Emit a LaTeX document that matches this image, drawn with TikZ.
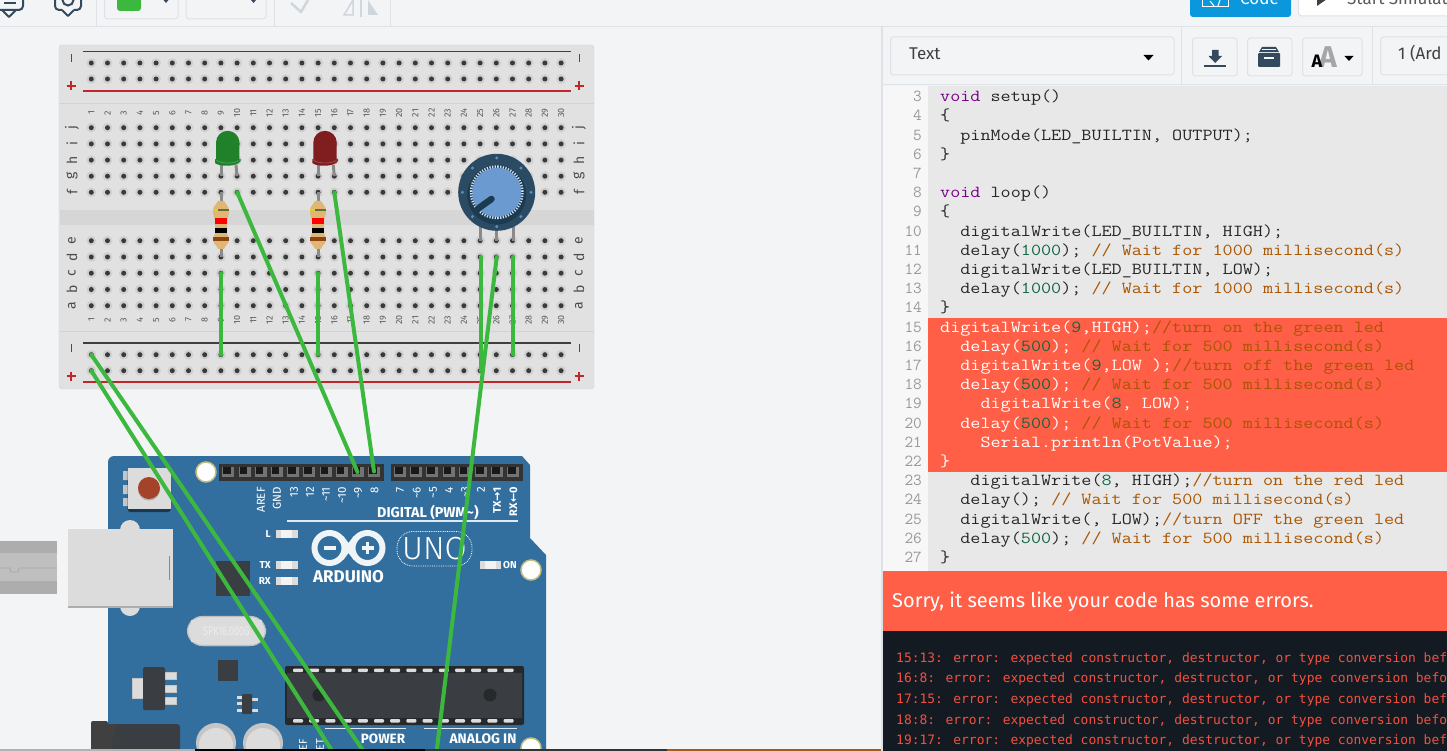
\documentclass[tikz,border=0pt]{standalone}
\usepackage{fontspec}
\setmainfont{Fira Sans}
\newfontfamily\errfont{DejaVu Sans Mono}
\newfontfamily\symfont{DejaVu Sans}
\newfontfamily\unofont{Fira Sans Light}
\definecolor{pagebg}{HTML}{F3F4F6}
\definecolor{uiline}{HTML}{DEE1E5}
\definecolor{uifaint}{HTML}{CFD6DD}
\definecolor{uidark}{HTML}{34495E}
\definecolor{boardbg}{HTML}{E1E1E1}
\definecolor{boardedge}{HTML}{D2D2D2}
\definecolor{groove}{HTML}{D6D6D6}
\definecolor{halo}{HTML}{CFCFCF}
\definecolor{holecore}{HTML}{3A3A3A}
\definecolor{railred}{HTML}{C0272D}
\definecolor{wiregreen}{HTML}{3DB83F}
\definecolor{leadgrey}{HTML}{8A8A8A}
\definecolor{unoblue}{HTML}{336F9E}
\definecolor{chipdark}{HTML}{3A3E42}
\definecolor{chipedge}{HTML}{26292C}
\definecolor{partgrey}{HTML}{DCDCDC}
\definecolor{codebg}{HTML}{E8E8E8}
\definecolor{alert}{HTML}{FF5F47}
\definecolor{errbg}{HTML}{141A22}
\definecolor{errtext}{HTML}{F5503F}
\definecolor{kwpurple}{HTML}{770088}
\definecolor{cmorange}{HTML}{AA5500}
\definecolor{numgreen}{HTML}{116644}
\definecolor{restan}{HTML}{DFB673}
\definecolor{resbrown}{HTML}{8A4513}
\definecolor{resstripe}{HTML}{6B6B3A}
\definecolor{ledgreen}{HTML}{21812A}
\definecolor{ledgreenhi}{HTML}{4C9E52}
\definecolor{ledred}{HTML}{7F1D1F}
\definecolor{ledredhi}{HTML}{A0494A}
\definecolor{potouter}{HTML}{2B4A63}
\definecolor{potinner}{HTML}{1C3A50}
\definecolor{potblue}{HTML}{6A9AD0}
\definecolor{potdot}{HTML}{5B8FB8}
\definecolor{btnred}{HTML}{A5432A}
\definecolor{codeblue}{HTML}{0A97DC}
\definecolor{strip}{HTML}{A85A1A}
\tikzstyle{uibox} = [draw=uiline, fill=pagebg, rounded corners=3pt, line width=1pt]
\tikzstyle{uitext} = [inner sep=0pt, anchor=base west, font=\fontsize{17}{20}\selectfont, text=black!75]
\tikzstyle{wire} = [draw=wiregreen, line width=4pt, line cap=round]
\tikzstyle{lead} = [draw=leadgrey, line width=3pt]
\tikzstyle{colnum} = [inner sep=0pt, rotate=90, font=\fontsize{9}{10}\selectfont, text=black!65]
\tikzstyle{rowchar} = [inner sep=0pt, rotate=90, font=\fontsize{14}{15}\selectfont, text=black!70]
\tikzstyle{pinname} = [inner sep=0pt, rotate=90, anchor=east, text=white, font=\fontsize{11.5}{12}\selectfont]
\tikzstyle{silk} = [inner sep=0pt, text=white, font=\fontsize{12}{14}\selectfont\bfseries]
\tikzstyle{smdled} = [fill=partgrey]
\tikzstyle{linenum} = [inner sep=0pt, anchor=base east, font=\ttfamily\fontsize{16.8}{19}\selectfont, text=black!40]
\tikzstyle{codetext} = [inner sep=0pt, anchor=base west, font=\ttfamily\fontsize{16.8}{19}\selectfont, text=black!85]
\tikzstyle{errline} = [inner sep=0pt, anchor=base west, font=\errfont\fontsize{12.95}{15}\selectfont, text=errtext]
\newcommand{\codeline}[3][]{%
  \node[linenum] (num#2) at (922,{101.7+(#2-3)*19.2}) {#2};
  \node[codetext, #1] (code#2) at (940,{101.7+(#2-3)*19.2}) {\scalebox{1.166}[1]{#3}};}
\newcommand{\cm}[1]{\textcolor{cmorange}{#1}}
\newcommand{\nm}[1]{\textcolor{numgreen}{#1}}
\newcommand{\kw}[1]{\textcolor{kwpurple}{#1}}
\newcommand{\ledpart}[3]{%
  \draw[lead] (#1+5,165) -- (#1+5,176);
  \draw[lead] (#1+20,165) -- (#1+21,176);
  \fill[#2] (#1,162) -- (#1,142.5) arc (180:360:11.7) -- (#1+23.4,162) -- cycle;
  \fill[#2] (#1-1,159) .. controls (#1+5,163) and (#1+19,163) .. (#1+24.5,159) -- (#1+24.5,161) .. controls (#1+22,167) and (#1+3,167) .. (#1-1,163) -- cycle;
  \draw[#3, line width=.8pt] (#1,160) .. controls (#1+5,164) and (#1+19,164) .. (#1+23.4,160);}
\newcommand{\respart}[1]{%
  \draw[lead] (#1,192) -- (#1,257);
  \fill[restan] (#1-3,201) .. controls (#1-5,205) and (#1-8,206) .. (#1-8,211) .. controls (#1-8,216) and (#1-6,217) .. (#1-6,222) -- (#1-6,233) .. controls (#1-6,236) and (#1-8,236) .. (#1-8,240) .. controls (#1-8,244) and (#1-4,245) .. (#1-3,249) -- (#1+3,249) .. controls (#1+4,245) and (#1+8,244) .. (#1+8,240) .. controls (#1+8,236) and (#1+6,236) .. (#1+6,233) -- (#1+6,222) .. controls (#1+6,217) and (#1+8,216) .. (#1+8,211) .. controls (#1+8,206) and (#1+5,205) .. (#1+3,201) -- cycle;
  \fill[yellow!85!black] (#1-8,209.5) rectangle (#1-3,211.5);
  \fill[resstripe] (#1-3,209.5) rectangle (#1+8,211.5);
  \fill[red] (#1-6,218) rectangle (#1+6,224.5);
  \fill[black] (#1-6,228) rectangle (#1+6,233);
  \fill[resbrown] (#1-8,237) rectangle (#1+8,241.5);}
\begin{document}
\begin{tikzpicture}[x=1pt, y=-1pt]
	\clip (0,0) rectangle (1447,751);
	\fill[pagebg] (0,0) rectangle (1447,751);

	\draw[uiline, line width=1pt] (0,26.5) -- (1447,26.5);
	\foreach \x in {96,274,390}
		\draw[uiline, line width=1pt] (\x,0) -- (\x,26);
	\draw[uidark, line width=2pt, rounded corners=4pt] (-4,10) -- (23,10) -- (23,-8);
	\draw[uidark, line width=2pt, line join=round] (2,10) -- (9,17) -- (16,10);
	\draw[uidark, line width=2pt] (4,3) -- (16,3);
	\draw[uidark, line width=2pt, rounded corners=4pt] (62,10) -- (55,10) -- (55,-8) -- (81,-8) -- (81,10) -- (74,10);
	\draw[uidark, line width=2pt, line join=round] (62,10) -- (68,16) -- (74,10);
	\draw[uidark, line width=2pt] (68,0) circle (5.5);
	\draw[uibox] (104.5,-10) rectangle (178,19);
	\fill[wiregreen, rounded corners=3pt] (117,-10) rectangle (141,11);
	\fill[uidark] (163.5,0) -- (168.5,0) -- (166,3) -- cycle;
	\draw[uibox] (186,-10) rectangle (266,19);
	\fill[uidark] (251,0) -- (256,0) -- (253.5,3) -- cycle;
	\draw[uifaint, line width=2.5pt, line join=round] (291,3) -- (301,12) -- (308,0);
	\draw[uifaint, line width=1.5pt] (344,15) -- (353,0) -- (353,15) -- cycle;
	\draw[uifaint, line width=2.5pt] (361,0) -- (361,17);
	\fill[uifaint] (368,0) -- (378,15) -- (368,15) -- cycle;

	\fill[boardbg, draw=boardedge, rounded corners=3pt] (59,45) rectangle (594,389);
	\fill[groove] (59.5,210) rectangle (593.5,225);
	\draw[boardedge] (59.5,103) -- (593.5,103);
	\draw[boardedge] (59.5,331) -- (593.5,331);
	\draw[black!75, line width=1.5pt] (83,51.5) -- (571,51.5);
	\draw[railred, line width=1.5pt] (83,91) -- (571,91);
	\draw[black!75, line width=1.5pt] (83,343) -- (571,343);
	\draw[railred, line width=1.5pt] (83,382) -- (571,382);
	\foreach \y in {63,79,127.7,143.9,160.1,176.2,192.3,240.7,257,273.2,289.5,305.7,354.7,370.7}
		\foreach \c in {0,...,29} {
			\fill[halo] (91.3+\c*16.2,\y) circle (4.8);
			\fill[holecore] (91.3+\c*16.2,\y) circle (2.5);
		}
	\foreach \c in {1,...,30} {
		\node[colnum] (numtop\c) at (91.3+\c*16.2-16.2,113) {\c};
		\node[colnum] (numbot\c) at (91.3+\c*16.2-16.2,320) {\c};
	}
	\foreach \ch/\y in {j/127.7,i/143.9,h/160.1,g/176.2,f/192.3,e/240.7,d/257,c/273.2,b/289.5,a/305.7} {
		\node[rowchar] (left\ch) at (72,\y) {\ch};
		\node[rowchar] (right\ch) at (579,\y) {\ch};
	}
	\foreach \x/\s in {71/a,579/b} {
		\draw[black!70, line width=1pt] (\x,54) -- (\x,62);
		\draw[railred, line width=1.2pt] (\x-4.5,86) -- (\x+4.5,86) (\x,81.5) -- (\x,90.5);
		\draw[black!70, line width=1pt] (\x,343.5) -- (\x,351.5);
		\draw[railred, line width=1.2pt] (\x-4.5,376) -- (\x+4.5,376) (\x,371.5) -- (\x,380.5);
	}

	\ledpart{216}{ledgreen}{ledgreenhi}
	\ledpart{313.3}{ledred}{ledredhi}
	\respart{221}
	\respart{318}

	\foreach \x in {480.5,496.7,513}
		\draw[lead] (\x,226) -- (\x,241);
	\fill[potouter] (496.7,192.3) circle (38.5);
	\fill[potinner] (496.7,195) circle (29.5);
	\foreach \a in {0,45,...,315}
		\fill[potdot] (496.7,192.3) ++(\a:34.3) circle (1.7);
	\fill[white!70!potblue] (496.7,192.3) circle (27);
	\foreach \a in {0,6,...,354}
		\draw[potinner, line width=1.2pt] (496.7,192.3) ++(\a:24) -- ++(\a:3.5);
	\fill[potblue] (496.7,192.3) circle (24.5);
	\draw[potinner, line width=6.5pt, line cap=round] (491.5,199) -- (477.5,209);

	\fill[leadgrey!70!white] (0,541) rectangle (57,594);
	\fill[leadgrey!55!white] (0,553) rectangle (57,581);
	\draw[black!35, line width=.8pt] (0,568) -- (10,568) -- (11,572) -- (18,572) -- (19,568) -- (57,568);

	\fill[unoblue] (108,462) arc (180:270:6) -- (522,456) -- (530,465) -- (530,538) -- (546,555) -- (546,760) -- (108,760) -- cycle;
	\fill[black!80] (219,464) rectangle (384,480.5);
	\fill[black!80] (391,464) rectangle (523,480.5);
	\foreach \x in {228.3,244.5,260.7,276.9,293.1,309.3,325.5,341.7,357.9,374.1,400,416.2,432.4,448.6,464.8,481,497.2,513.4} {
		\fill[black!55] (\x-6,467) rectangle (\x+6,477);
		\fill[black!90] (\x-5,467) rectangle (\x+2.5,474);
	}
	\foreach \x/\y in {206/472,531/570,531/748}
		\draw[fill=white, draw=yellow!55!black!60!white, line width=1.5pt] (\x,\y) circle (10);

	\foreach \lbl/\x in {AREF/261,GND/277,13/294,12/310,\textasciitilde11/326,\textasciitilde10/342,\textasciitilde9/358,8/374.6,7/400,\textasciitilde6/416.8,\textasciitilde5/433,4/449,\textasciitilde3/465,2/481}
		\node[pinname] (pin\x) at (\x,487) {\lbl};
	\node[pinname, font=\fontsize{11}{12}\selectfont\bfseries] (pintx) at (497,487) {TX{\symfont→}1};
	\node[pinname, font=\fontsize{11}{12}\selectfont\bfseries] (pinrx) at (513.5,487) {RX{\symfont←}0};
	\node[silk, font=\fontsize{14.3}{16}\selectfont\bfseries, anchor=west] (digital) at (377,512) {DIGITAL (PWM\textasciitilde)};
	\draw[white!85!unoblue, line width=1.2pt] (287,521) -- (518,521);

	\foreach \y/\lbl in {530/L,561/TX,577/RX} {
		\fill[smdled] (276,\y) rectangle (298,\y+8);
		\fill[white!65!partgrey] (281,\y) rectangle (292,\y+8);
		\node[silk, anchor=east, font=\fontsize{10}{12}\selectfont\bfseries] (lbl\lbl) at (271,\y+4) {\lbl};
	}
	\fill[smdled] (480,561) rectangle (501,569);
	\fill[white!65!partgrey] (485,561) rectangle (496,569);
	\node[silk, anchor=west, font=\fontsize{10}{12}\selectfont\bfseries] (lblon) at (503,565) {ON};

	\draw[white!92!unoblue, line width=6pt] (329.5,548) circle (15);
	\draw[white!92!unoblue, line width=6pt] (367.5,548) circle (15);
	\draw[white!92!unoblue, line width=6pt] (341,538) -- (356,558) (341,558) -- (356,538);
	\fill[white!92!unoblue] (324,546.2) rectangle (336,549.8);
	\fill[white!92!unoblue] (361.5,546.2) rectangle (373.5,549.8);
	\fill[white!92!unoblue] (365.7,542) rectangle (369.3,554);
	\node[silk, font=\fontsize{17}{18}\selectfont\bfseries] (logotext) at (348.5,576.5) {ARDUINO};
	\draw[white, line width=.8pt, densely dotted, rounded corners=16pt] (397,531.5) rectangle (472,566);
	\node[inner sep=0pt, text=white, font=\unofont\fontsize{32}{34}\selectfont] (unotext) at (434.5,549) {UNO};

	\fill[black!50!unoblue, rounded corners=3pt] (127.5,475) rectangle (171,512);
	\fill[leadgrey!50!white] (123,471) rectangle (127.5,480) (123,485) rectangle (127.5,494) (123,498) rectangle (127.5,506);
	\fill[partgrey] (127.5,468) rectangle (171,509);
	\fill[leadgrey!70!white] (149,489.5) circle (11);
	\fill[btnred] (149,488) circle (11);

	\fill[partgrey] (130,530) circle (10) (130,606) circle (10);
	\fill[leadgrey!70!white] (67.5,532) rectangle (173,608);
	\fill[partgrey] (67.5,529) rectangle (173,606);
	\draw[leadgrey, line width=1pt] (169,556) -- (169,580);

	\fill[chipdark] (215.7,560.7) rectangle (250,596);
	\draw[partgrey, line width=6pt, rounded corners=14pt] (190,619) rectangle (263,643);
	\draw[leadgrey!55!white, line width=1.2pt, rounded corners=15pt] (187.5,616.5) rectangle (265.5,645.5);
	\fill[partgrey] (191,620) rectangle (262,642);
	\node[inner sep=0pt, text=white!85!leadgrey, font=\fontsize{12.5}{14}\selectfont] (xtal) at (226.5,631) {\scalebox{.72}[1]{SPK16.000G}};
	\fill[chipdark] (218,660) rectangle (238,681);

	\fill[partgrey, draw=leadgrey!50!white] (132.5,678) rectangle (145,698);
	\foreach \y in {676,689,701}
		\fill[partgrey, draw=leadgrey!50!white] (164,\y-3.5) rectangle (176,\y+3.5);
	\fill[chipdark, rounded corners=1.5pt] (143,667) rectangle (165,710);
	\foreach \y in {697,703,710}
		\fill[partgrey] (237,\y-1.5) rectangle (243,\y+1.5);
	\foreach \y in {699,710}
		\fill[partgrey] (251,\y-1.5) rectangle (258,\y+1.5);
	\fill[chipdark, rounded corners=1pt] (242,694) rectangle (252,714);

	\fill[black!75, rounded corners=2pt] (91,721) rectangle (108,760);
	\fill[chipdark, rounded corners=3pt] (108,724) rectangle (180,760);
	\fill[black!75] (108,724) -- (118,724) -- (112,740) -- (112,760) -- (108,760) -- cycle;
	\foreach \x in {216,263} {
		\fill[leadgrey!50!white] (\x,743) circle (20);
		\fill[partgrey] (\x,745) circle (17);
	}

	\fill[chipedge, rounded corners=2pt] (285,666) rectangle (524,725);
	\fill[chipdark] (287,673) rectangle (522,718);
	\foreach \c in {0,...,13} {
		\fill[partgrey, rounded corners=1pt] (298+\c*16.2-5,668.5) rectangle (298+\c*16.2+5,672);
		\fill[partgrey, rounded corners=1pt] (298+\c*16.2-5,719) rectangle (298+\c*16.2+5,722.5);
	}
	\fill[chipedge] (319,695) circle (6.5);
	\fill[chipedge] (490,695) circle (6.5);
	\draw[white!85!unoblue, line width=1.2pt] (325,728.5) -- (406,728.5);
	\draw[white!85!unoblue, line width=1.2pt] (424,728.5) -- (517,728.5);
	\node[silk, font=\fontsize{13.5}{14}\selectfont\bfseries] (power) at (383,738.5) {POWER};
	\node[silk, font=\fontsize{13.8}{14}\selectfont\bfseries] (analog) at (483,738.5) {ANALOG IN};
	\node[pinname, anchor=east, font=\fontsize{11}{12}\selectfont] (ioref) at (303,739) {IOREF};
	\node[pinname, anchor=east, font=\fontsize{11}{12}\selectfont] (reset) at (320,739) {RESET};

	\coordinate (hole9f) at (237.2,192.3);
	\coordinate (pin9) at (357.5,472);
	\coordinate (hole16f) at (334.3,192.3);
	\coordinate (pin8) at (374,471.5);
	\coordinate (res9) at (221,273.2);
	\coordinate (rail9) at (221,354.7);
	\coordinate (res15) at (318,273.2);
	\coordinate (rail15) at (318,354.7);
	\coordinate (pot25) at (480.5,257);
	\coordinate (rail25) at (480.5,370.7);
	\coordinate (pot26) at (496.7,257);
	\coordinate (off26) at (435,765);
	\coordinate (pot27) at (513,257);
	\coordinate (rail27) at (513,354.7);
	\coordinate (railneg) at (91.3,354.7);
	\coordinate (offneg) at (373,765);
	\coordinate (railpos) at (91.3,370.7);
	\coordinate (offpos) at (341,765);
	\foreach \a/\b in {hole9f/pin9,hole16f/pin8,res9/rail9,res15/rail15,pot25/rail25,pot26/off26,pot27/rail27,railneg/offneg,railpos/offpos}
		\draw[wire] (\a) -- (\b);

	\fill[black!30] (0,748.7) rectangle (195,751);
	\fill[black] (195,748.7) rectangle (425,751);
	\fill[black!80] (425,748.7) rectangle (667,751);
	\fill[strip] (667,748.7) rectangle (882,751);

	\fill[pagebg] (882,27) rectangle (1447,85);
	\draw[uiline, line width=1.5pt] (882,27) -- (882,751);
	\draw[uiline, line width=1pt] (882,85) -- (1447,85);
	\draw[uiline, line width=1pt] (1181.5,27) -- (1181.5,85);
	\draw[uiline, line width=1pt] (1372,27) -- (1372,85);
	\draw[uibox] (890.5,37) rectangle (1174,75);
	\node[uitext] (modetext) at (909,60) {Text};
	\fill[black] (1143.5,55) -- (1153.5,55) -- (1148.5,60.5) -- cycle;
	\draw[uibox] (1192.5,38) rectangle (1237,76);
	\draw[uibox] (1247.5,38) rectangle (1292,76);
	\draw[uibox] (1302.5,38) rectangle (1362,76);
	\draw[uibox] (1380.5,37) rectangle (1460,75);
	\fill[uidark] (1212,50) -- (1218.5,50) -- (1218.5,56) -- (1222,56) -- (1215.2,63) -- (1208.5,56) -- (1212,56) -- cycle;
	\fill[uidark] (1204,65.5) rectangle (1226,67.5);
	\fill[uidark, rounded corners=1pt] (1258,53) rectangle (1280,67);
	\fill[uidark] (1259,52) -- (1262,47) -- (1276,47) -- (1279,52) -- cycle;
	\fill[pagebg] (1264,57) rectangle (1274,59);
	\fill[pagebg] (1262,49.5) rectangle (1276,50.3);
	\node[inner sep=0pt, anchor=base, text=black!35, font=\fontsize{30}{30}\selectfont\bfseries] (bigfont) at (1328,68) {A};
	\node[inner sep=0pt, anchor=base, text=black, font=\fontsize{18}{20}\selectfont\bfseries] (smallfont) at (1317,68) {A};
	\fill[black] (1344.5,56) -- (1353.5,56) -- (1349,61) -- cycle;
	\node[uitext] (boardtext) at (1398,60) {1 (Ard};

	\fill[codeblue, rounded corners=3pt] (1190,-10) rectangle (1291,17);
	\draw[white, line width=1pt] (1202,-5) rectangle (1228,7);
	\draw[white, line width=1pt] (1210,1) -- (1214,6) (1218,6) -- (1220,0);
	\node[uitext, text=white, font=\fontsize{17}{20}\selectfont] (codebtn) at (1240,4.5) {Code};
	\draw[uibox, fill=white] (1298.5,-10) rectangle (1460,16);
	\fill[black!75] (1317,-8) -- (1317,6) -- (1327,-1) -- cycle;
	\node[uitext, text=black!65] (simbtn) at (1347,4.5) {Start Simulat};

	\fill[codebg] (883,86) rectangle (1447,571);
	\fill[black!3] (883,86) rectangle (928,571);
	\fill[alert] (928,318) rectangle (1447,471.5);
	\codeline{3}{\kw{void} setup()}
	\codeline{4}{\{}
	\codeline{5}{~~pinMode(LED\_BUILTIN, OUTPUT);}
	\codeline{6}{\}}
	\node[linenum] (num7) at (922,{101.7+4*19.2}) {7};
	\codeline{8}{\kw{void} loop()}
	\codeline{9}{\{}
	\codeline{10}{~~digitalWrite(LED\_BUILTIN, HIGH);}
	\codeline{11}{~~delay(\nm{1000}); \cm{// Wait for 1000 millisecond(s)}}
	\codeline{12}{~~digitalWrite(LED\_BUILTIN, LOW);}
	\codeline{13}{~~delay(\nm{1000}); \cm{// Wait for 1000 millisecond(s)}}
	\codeline{14}{\}}
	\codeline[text=white]{15}{digitalWrite(\nm{9},HIGH);\cm{//turn on the green led}}
	\codeline[text=white]{16}{~~delay(\nm{500}); \cm{// Wait for 500 millisecond(s)}}
	\codeline[text=white]{17}{~~digitalWrite(\nm{9},LOW );\cm{//turn off the green led}}
	\codeline[text=white]{18}{~~delay(\nm{500}); \cm{// Wait for 500 millisecond(s)}}
	\codeline[text=white]{19}{~~~~digitalWrite(\nm{8}, LOW);}
	\codeline[text=white]{20}{~~delay(\nm{500}); \cm{// Wait for 500 millisecond(s)}}
	\codeline[text=white]{21}{~~~~Serial.println(PotValue);}
	\codeline[text=white]{22}{\}}
	\codeline{23}{~~~digitalWrite(\nm{8}, HIGH);\cm{//turn on the red led}}
	\codeline{24}{~~delay(); \cm{// Wait for 500 millisecond(s)}}
	\codeline{25}{~~digitalWrite(, LOW);\cm{//turn OFF the green led}}
	\codeline{26}{~~delay(\nm{500}); \cm{// Wait for 500 millisecond(s)}}
	\codeline{27}{\}}

	\fill[alert] (883,571) rectangle (1447,631);
	\node[uitext, text=white, font=\fontsize{20}{24}\selectfont] (sorry) at (892,607) {Sorry, it seems like your code has some errors.};
	\fill[errbg] (883,631) rectangle (1447,751);
	\node[errline] (err1) at (896,662) {15:13: error: expected constructor, destructor, or type conversion bef};
	\node[errline] (err2) at (896,682.5) {16:8: error: expected constructor, destructor, or type conversion befo};
	\node[errline] (err3) at (896,703.5) {17:15: error: expected constructor, destructor, or type conversion bef};
	\node[errline] (err4) at (896,724) {18:8: error: expected constructor, destructor, or type conversion befo};
	\node[errline] (err5) at (896,744) {19:17: error: expected constructor, destructor, or type conversion bef};
\end{tikzpicture}
\end{document}
